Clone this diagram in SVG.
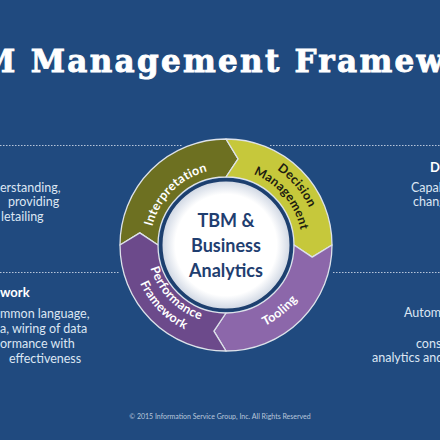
<svg xmlns="http://www.w3.org/2000/svg" width="440" height="440" viewBox="0 0 440 440">
<defs>
<style>
.bg{fill:#204a7f}
.title{font-family:"DejaVu Serif",serif;font-weight:bold;font-size:31px;fill:#ffffff;stroke:#ffffff;stroke-width:0.9;letter-spacing:2.3px}
.body{font-family:Lato,"Liberation Sans",sans-serif;font-size:12.5px;fill:#dce6f3}
.head{font-family:Lato,"Liberation Sans",sans-serif;font-size:13px;font-weight:bold;fill:#ffffff}
.dots{stroke:#b7c5da;stroke-width:1;stroke-dasharray:1.5 1.5;fill:none}
.seg{stroke:#dde2ea;stroke-width:1.3;stroke-linejoin:round}
.rl{font-family:Lato,"Liberation Sans",sans-serif;font-size:12.5px;font-weight:bold;letter-spacing:0.3px}
.core{font-family:Lato,"Liberation Sans",sans-serif;font-size:18px;font-weight:bold;fill:#1f3e70;text-anchor:middle}
.copy{font-family:Lato,"Liberation Sans",sans-serif;font-size:7px;fill:#b9c7db;text-anchor:middle}
</style>
<radialGradient id="disc" cx="50%" cy="50%" r="50%">
<stop offset="0.78" stop-color="#ffffff"/>
<stop offset="1" stop-color="#cdd5e2"/>
</radialGradient>
<path id="pInterp" d="M152.6,264.7 A76,76 0 0 1 245.7,171.6"/>
<path id="pDec" d="M210.2,155.4 A91,91 0 0 1 311.5,276.1"/>
<path id="pMan" d="M212.8,170.2 A76,76 0 0 1 297.4,271"/>
<path id="pTool" d="M194.4,329 A90,90 0 0 0 314.9,230.9"/>
<path id="pPerf" d="M150.1,223.2 A79,79 0 0 0 245.1,321.7"/>
<path id="pFrame" d="M135.6,219.1 A94,94 0 0 0 248.7,336.2"/>
</defs>
<rect class="bg" x="0" y="0" width="440" height="440"/>
<text class="title" x="-19" y="72">M Management Framew</text>
<g id="connectors">
<line class="dots" x1="0" y1="145.5" x2="183" y2="145.5"/>
<line class="dots" x1="270" y1="145.5" x2="440" y2="145.5"/>
<line class="dots" x1="0" y1="272.5" x2="120" y2="272.5"/>
<line class="dots" x1="333" y1="272.5" x2="440" y2="272.5"/>
</g>
<g id="left-top">
<text class="body" x="0" y="192">erstanding,</text>
<text class="body" x="8" y="206">providing</text>
<text class="body" x="1" y="221">letailing</text>
</g>
<g id="left-bottom">
<text class="head" x="0" y="297">work</text>
<text class="body" x="0" y="318">mmon language,</text>
<text class="body" x="0" y="333">a, wiring of data</text>
<text class="body" x="0" y="348">ormance with</text>
<text class="body" x="9" y="363">effectiveness</text>
</g>
<g id="right-top">
<text class="head" x="430" y="172">De</text>
<text class="body" x="411" y="192">Capab</text>
<text class="body" x="413" y="206">chang</text>
</g>
<g id="right-bottom">
<text class="body" x="404" y="317">Autom</text>
<text class="body" x="416" y="348">cons</text>
<text class="body" x="372" y="362">analytics and</text>
</g>
<g id="interpretation">
<path class="seg" fill="#6d7021" d="M120,245 A106,106 0 0 1 226,139 L238.1,158.8 L226,177 A68,68 0 0 0 158,245 L139.8,232.9 Z"/>
<text class="rl" fill="#ffffff"><textPath href="#pInterp" startOffset="50%" text-anchor="middle">Interpretation</textPath></text>
</g>
<g id="decision">
<path class="seg" fill="#c6c83b" d="M226,139 A106,106 0 0 1 332,245 L312.2,257.1 L294,245 A68,68 0 0 0 226,177 L238.1,158.8 Z"/>
<text class="rl" fill="#1c1c10"><textPath href="#pDec" startOffset="50%" text-anchor="middle">Decision</textPath></text>
<text class="rl" fill="#1c1c10"><textPath href="#pMan" startOffset="50%" text-anchor="middle">Management</textPath></text>
</g>
<g id="tooling">
<path class="seg" fill="#8c67aa" d="M332,245 A106,106 0 0 1 226,351 L213.9,331.2 L226,313 A68,68 0 0 0 294,245 L312.2,257.1 Z"/>
<text class="rl" fill="#ffffff"><textPath href="#pTool" startOffset="50%" text-anchor="middle">Tooling</textPath></text>
</g>
<g id="performance">
<path class="seg" fill="#6c4a8b" d="M226,351 A106,106 0 0 1 120,245 L139.8,232.9 L158,245 A68,68 0 0 0 226,313 L213.9,331.2 Z"/>
<text class="rl" fill="#ffffff"><textPath href="#pPerf" startOffset="50%" text-anchor="middle">Performance</textPath></text>
<text class="rl" fill="#ffffff"><textPath href="#pFrame" startOffset="50%" text-anchor="middle">Framework</textPath></text>
</g>
<g id="core">
<circle cx="226" cy="245" r="65" fill="url(#disc)" stroke="#1d3f6e" stroke-width="3"/>
<text class="core" x="226" y="227">TBM &amp;</text>
<text class="core" x="226" y="252">Business</text>
<text class="core" x="226" y="277">Analytics</text>
</g>
<text class="copy" x="220" y="419">© 2015 Information Service Group, Inc. All Rights Reserved</text>
</svg>
